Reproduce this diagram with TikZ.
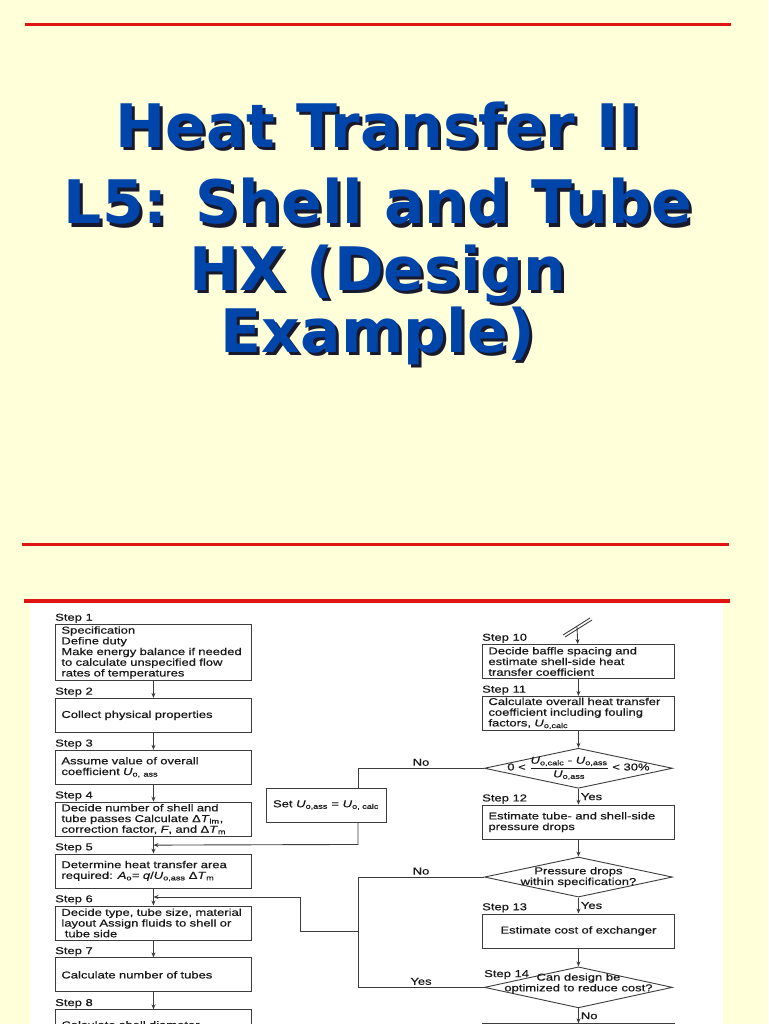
\documentclass[tikz,border=0pt]{standalone}
\usepackage{fontspec}
\usepackage{xcolor}
\usepackage{tikz}
\usetikzlibrary{shapes.geometric, arrows.meta, positioning, calc}
\newfontfamily\titlefont{DejaVu Sans}
\newfontfamily\chartfont[FakeStretch=1.3, FakeBold=0.6]{Liberation Sans}
\newcommand\chartsize{\chartfont\fontsize{10}{10.7}\selectfont}
\newcommand\uval[1]{\textit{U}\textsubscript{#1}}
\definecolor{slidebg}{RGB}{255,255,218}
\definecolor{rulered}{RGB}{225,20,20}
\definecolor{titleblue}{RGB}{0,70,170}
\definecolor{titleshade}{RGB}{25,25,45}
\definecolor{boxline}{RGB}{60,60,60}
\definecolor{ink}{RGB}{25,25,25}

\begin{document}
\begin{tikzpicture}[x=1pt, y=-1pt,
    titletext/.style={font=\titlefont\bfseries\fontsize{60}{60}\selectfont, text=titleblue, inner sep=0pt, anchor=base},
    titleshadow/.style={titletext, text=titleshade},
    redrule/.style={draw=rulered, line width=3pt},
    stepbox/.style={draw=boxline, line width=0.9pt, minimum height=34pt, text width=184pt,
                    inner xsep=6pt, inner ysep=1pt, align=left, font=\chartsize, text=ink},
    rightbox/.style={stepbox, text width=180pt},
    steplabel/.style={font=\chartsize, text=ink, inner sep=0pt},
    decision/.style={draw=boxline, line width=0.9pt, diamond, minimum width=188pt,
                     minimum height=40pt, inner sep=0pt},
    dtext/.style={font=\chartsize, text=ink, align=center, inner sep=0pt},
    answer/.style={font=\chartsize, text=ink, inner sep=2pt},
    flow/.style={draw=boxline, line width=0.9pt},
    arr/.style={flow, -{Stealth[length=5pt, width=4pt]}}
]
    % slide
    \useasboundingbox[fill=slidebg] (0,0) rectangle (768,1024);
    \draw[redrule] (25,25) -- (731,25);
    \draw[redrule] (22,544) -- (729,544);
    \draw[redrule, line width=4pt] (24,601) -- (730,601);
    \fill[white] (30,603) rectangle (723,1030);

    % title
    \foreach \ty/\tline [count=\i] in {148/{Heat Transfer II}, 224/{L5: Shell and Tube},
                                       290/{HX (Design}, 352/{Example)}} {
        \node[titleshadow] (ts\i) at (381,\ty+3) {\tline};
        \node[titletext] (t\i) at (378,\ty) {\tline};
    }

    % left column
    \node[stepbox, anchor=north west, minimum height=56pt] (b1) at (55,624)
        {Specification\\Define duty\\Make energy balance if needed\\to calculate unspecified flow\\rates of temperatures};
    \node[stepbox, below=17pt of b1] (b2) {Collect physical properties};
    \node[stepbox, below=17pt of b2] (b3) {Assume value of overall\\coefficient \uval{o, ass}};
    \node[stepbox, below=17pt of b3] (b4)
        {Decide number of shell and\\tube passes Calculate  Δ\textit{T}\textsubscript{lm},\\correction factor, \textit{F}, and  Δ\textit{T}\textsubscript{m}};
    \node[stepbox, below=17pt of b4] (b5)
        {Determine heat transfer area\\required:  \textit{A}\textsubscript{o}= \textit{q}/\uval{o,ass} Δ\textit{T}\textsubscript{m}};
    \node[stepbox, below=17pt of b5] (b6)
        {Decide type, tube size, material\\layout Assign fluids to shell or\\\ tube side};
    \node[stepbox, below=17pt of b6] (b7) {Calculate number of tubes};
    \node[stepbox, below=17pt of b7, minimum height=30pt] (b8) {Calculate shell diameter};

    \foreach \n in {1,...,8} {
        \node[steplabel, above right=1pt and 0pt of b\n.north west] (s\n) {Step \n};
    }
    \foreach \a/\b in {1/2, 2/3, 3/4, 4/5, 5/6, 6/7, 7/8} {
        \draw[arr] (b\a) -- (b\b);
    }

    % right column
    \coordinate (brk) at (577,627);
    \draw[flow] ([shift={(-14,8)}]brk) -- ([shift={(13,-9)}]brk);
    \draw[flow] ([shift={(-12,10)}]brk) -- ([shift={(15,-7)}]brk);
    \node[rightbox, anchor=north west] (b10) at (482,644)
        {Decide baffle spacing and\\estimate shell-side heat\\transfer coefficient};
    \node[rightbox, below=17pt of b10] (b11)
        {Calculate overall heat transfer\\coefficient including fouling\\factors, \uval{o,calc}};
    \node[decision, below=17pt of b11] (d1) {};
    \node[dtext] (d1t) at (d1.center)
        {0 < $\displaystyle\frac{\mbox{\uval{o,calc} - \uval{o,ass}}}{\mbox{\uval{o,ass}}}$ < 30\%};
    \node[rightbox, below=16pt of d1] (b12) {Estimate tube- and shell-side\\pressure drops};
    \node[decision, below=17pt of b12] (d2) {};
    \node[dtext] (d2t) at (d2.center) {Pressure drops\\within specification?};
    \node[rightbox, align=center, below=16pt of d2] (b13) {Estimate cost of exchanger};
    \node[decision, below=18pt of b13, minimum height=41pt] (d3) {};
    \node[dtext] (d3t) at ([yshift=4pt]d3.center) {Can design be\\optimized to reduce cost?};
    \node[rightbox, below=15pt of d3] (b15) {};

    \node[steplabel, above right=1pt and 0pt of b10.north west] (s10) {Step 10};
    \node[steplabel, above right=1pt and 0pt of b11.north west] (s11) {Step 11};
    \node[steplabel, above right=1pt and 0pt of b12.north west] (s12) {Step 12};
    \node[steplabel, above right=1pt and 0pt of b13.north west] (s13) {Step 13};
    \node[steplabel, above right=8pt and 0pt of d3.west] (s14) {Step 14};

    \draw[arr] (brk) -- (b10);
    \draw[arr] (b10) -- (b11);
    \draw[arr] (b11) -- (d1);
    \draw[arr] (d1) -- node[answer, right] {Yes} (b12);
    \draw[arr] (b12) -- (d2);
    \draw[arr] (d2) -- node[answer, right] {Yes} (b13);
    \draw[arr] (b13) -- (d3);
    \draw[arr] (d3) -- node[answer, right] {No} (b15);

    % loops back
    \coordinate (kx) at (358,0);
    \node[draw=boxline, line width=0.9pt, minimum width=120pt, minimum height=34pt,
          font=\chartsize, text=ink] (setu) at (326,805) {Set \uval{o,ass} = \uval{o, calc}};
    \coordinate (j45) at ($(b4.south)!0.5!(b5.north)$);
    \coordinate (j56) at ($(b5.south)!0.5!(b6.north)$);
    \draw[flow] (d1.west) -- node[answer, above] {No} (d1.west -| kx) -- (setu.north -| kx);
    \draw[arr] (setu.south -| kx) -- ++(0,22) -- (j45);
    \draw[flow] (d2.west) -- node[answer, above] {No} (d2.west -| kx)
        |- node[answer, pos=0.75, above] {Yes} (d3.west);
    \draw[arr] (kx |- b13.west) -- ++(-58,0) |- (j56);
\end{tikzpicture}
\end{document}
